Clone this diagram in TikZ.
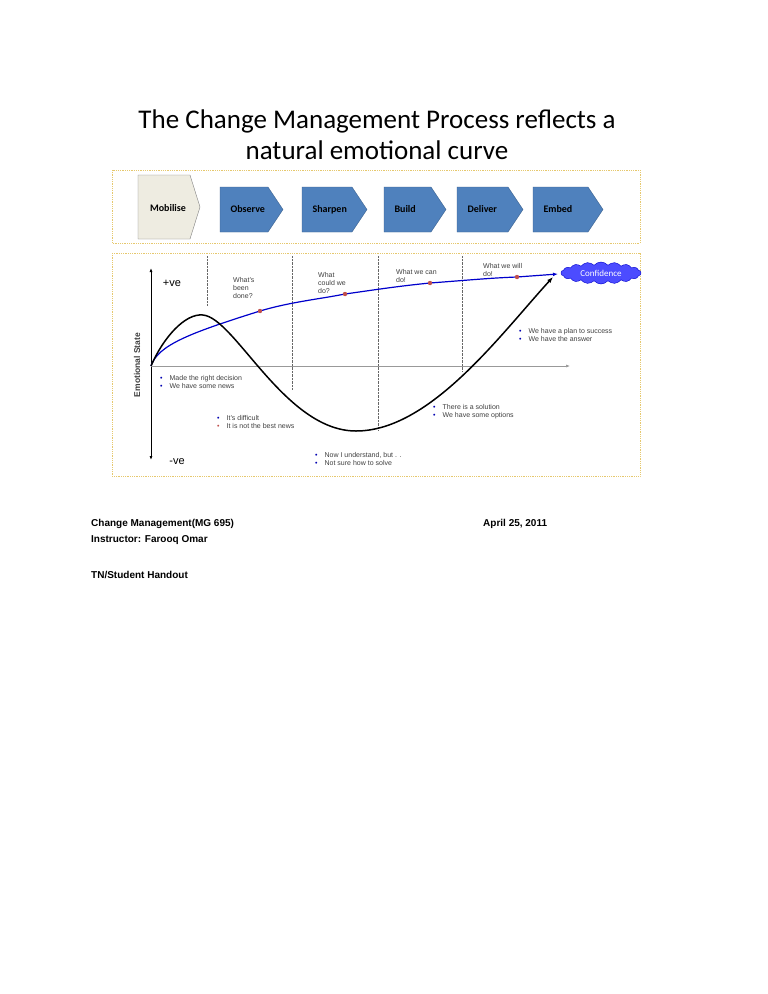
\documentclass[tikz,border=0pt]{standalone}
\usepackage{fontspec}
\setmainfont{Liberation Sans}
\newfontfamily\carfont{Carlito}
\usetikzlibrary{shapes.symbols,shapes.arrows,arrows.meta}
\definecolor{chev}{RGB}{79,129,189}
\definecolor{chevd}{RGB}{56,93,138}
\definecolor{mob}{RGB}{238,236,225}
\definecolor{frm}{RGB}{230,200,110}
\definecolor{dotr}{RGB}{192,80,77}
\begin{document}
\begin{tikzpicture}[x=1pt,y=-1pt,
 frame/.style={draw=frm,densely dotted,line width=0.8pt},
 chv/.style={font=\carfont\bfseries\fontsize{10}{11}\selectfont},
 lbl/.style={font=\fontsize{7}{8}\selectfont,text=black!75,align=left,anchor=west,inner sep=0}]
\useasboundingbox[fill=white] (0,0) rectangle (768,994);
\node[font=\carfont\fontsize{27}{31}\selectfont,align=center] (title) at (377,135) {The Change Management Process reflects a\\natural emotional curve};
\draw[frame] (112,170) rectangle (640,243);
\draw[frame] (112,253) rectangle (640,476);
% chevrons
\draw[fill=mob,draw=black!50] (138,175) -- (190,175) -- (200,207) -- (190,239) -- (138,239) -- cycle;
\node[chv] (mob) at (168,208) {Mobilise};
\foreach \a/\b/\t in {220/283/Observe,302/367/Sharpen,384/446/Build,457/523/Deliver,533/603/Embed}{
 \draw[fill=chev,draw=chevd] (\a,187) -- (\b-15,187) -- (\b,209.5) -- (\b-15,232) -- (\a,232) -- cycle;
 \node[chv,anchor=west] (c\t) at (\a+7,209.5) {\t};
}
% axes
\coordinate (o) at (151,366);
\coordinate (yt) at (151,268);
\coordinate (yb) at (151,460);
\coordinate (xr) at (570,366);
\draw[{Latex[length=4pt]}-{Latex[length=4pt]},line width=0.9pt] (yt) -- (yb);
\draw[-{Latex[length=4pt]},black!40,line width=0.6pt] (o) -- (xr);
\foreach \x/\y in {207/306,292/390,378/430,462/372}
 \draw[densely dotted,black!60] (\x,256) -- (\x,\y);
\node[font=\fontsize{11}{12}\selectfont] (pve) at (172,283) {+ve};
\node[font=\fontsize{11}{12}\selectfont] (nve) at (177,462) {-ve};
\node[rotate=90,font=\bfseries\fontsize{8.5}{9}\selectfont,text=black!75] (es) at (137,365) {Emotional State};
% cloud
\node[cloud,cloud puffs=18,cloud puff arc=100,aspect=4,fill=blue!70,draw=blue!80!black,text=white,font=\carfont\fontsize{9}{10}\selectfont,inner sep=0pt,minimum width=80pt,minimum height=22pt] (conf) at (601,273) {Confidence};
% blue curve
\coordinate (b1) at (260,311);\coordinate (b2) at (345,294);\coordinate (b3) at (430,283);\coordinate (b4) at (517,277);
\draw[blue!80!black,line width=1.2pt,-{Latex[length=5pt]}] (o) .. controls (158,345) and (190,333) .. (b1)
 .. controls (290,302) and (320,299) .. (b2) .. controls (380,289) and (400,286) .. (b3)
 .. controls (470,280) and (490,278) .. (b4) -- (558,274);
\foreach \p in {b1,b2,b3,b4} \fill[dotr] (\p) circle (2.2pt);
% black curve
\coordinate (k1) at (203,315);\coordinate (k2) at (356,431);\coordinate (ke) at (553,277);
\draw[line width=1.5pt,-{Latex[length=6pt]}] (o) .. controls (163,338) and (185,313) .. (k1)
 .. controls (235,318) and (285,431) .. (k2) .. controls (430,431) and (500,335) .. (ke);
% labels
\node[lbl] (t1) at (233,288) {What's\\been\\done?};
\node[lbl] (t2) at (318,283) {What\\could we\\do?};
\node[lbl] (t3) at (396,276) {What we can\\do!};
\node[lbl] (t4) at (483,270) {What we will\\do!};
\node[lbl] (n1) at (160,382) {\textcolor{blue!70!black}{\textbullet}\hspace{7pt}Made the right decision\\\textcolor{blue!70!black}{\textbullet}\hspace{7pt}We have some news};
\node[lbl] (n2) at (217,422) {\textcolor{blue!70!black}{\textbullet}\hspace{7pt}It's difficult\\\textcolor{dotr}{\textbullet}\hspace{7pt}It is not the best news};
\node[lbl] (n3) at (315,459) {\textcolor{blue!70!black}{\textbullet}\hspace{7pt}Now I understand, but . .\\\textcolor{blue!70!black}{\textbullet}\hspace{7pt}Not sure how to solve};
\node[lbl] (n4) at (433,412) {\textcolor{blue!70!black}{\textbullet}\hspace{7pt}There is a solution\\\textcolor{blue!70!black}{\textbullet}\hspace{7pt}We have some options};
\node[lbl] (n5) at (519,335) {\textcolor{blue!70!black}{\textbullet}\hspace{7pt}We have a plan to success\\\textcolor{blue!70!black}{\textbullet}\hspace{7pt}We have the answer};
% footer
\begin{scope}[every node/.style={anchor=west,inner sep=0,font=\bfseries\fontsize{10}{11}\selectfont}]
\node (f1) at (91,524) {Change Management(MG 695)};
\node (f2) at (91,540) {Instructor: Farooq Omar};
\node (f3) at (91,575) {TN/Student Handout};
\node (f4) at (483,524) {April 25, 2011};
\end{scope}
\end{tikzpicture}
\end{document}
